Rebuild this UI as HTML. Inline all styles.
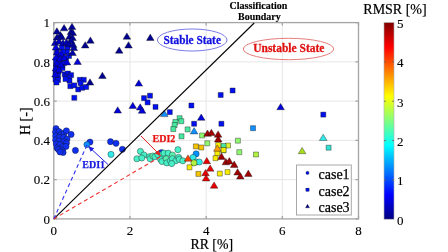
<!DOCTYPE html>
<html><head><meta charset="utf-8"><style>
html,body{margin:0;padding:0;background:#fff;}
body{width:448px;height:252px;overflow:hidden;}
svg{display:block;}
text{font-family:"Liberation Serif","Times New Roman",serif;}
</style></head><body>
<svg width="448" height="252" viewBox="0 0 448 252">
<defs>
<linearGradient id="jet" x1="0" y1="1" x2="0" y2="0">
<stop offset="0" stop-color="#000080"/><stop offset="0.125" stop-color="#0000ff"/>
<stop offset="0.375" stop-color="#00ffff"/><stop offset="0.625" stop-color="#ffff00"/>
<stop offset="0.875" stop-color="#ff0000"/><stop offset="1" stop-color="#800000"/>
</linearGradient>
<marker id="ab" viewBox="0 0 10 10" refX="9" refY="5" markerWidth="6" markerHeight="6" orient="auto-start-reverse" markerUnits="userSpaceOnUse"><path d="M0 1L10 5L0 9Z" fill="#2020e0"/></marker>
<marker id="ar" viewBox="0 0 10 10" refX="9" refY="5" markerWidth="6" markerHeight="6" orient="auto-start-reverse" markerUnits="userSpaceOnUse"><path d="M0 1L10 5L0 9Z" fill="#e82020"/></marker>
</defs>
<rect width="448" height="252" fill="#fff"/>
<g stroke="#e6e6e6" stroke-width="1"><line x1="129.97" y1="22.6" x2="129.97" y2="218.9"/><line x1="206.15" y1="22.6" x2="206.15" y2="218.9"/><line x1="282.32" y1="22.6" x2="282.32" y2="218.9"/><line x1="53.8" y1="179.64" x2="358.5" y2="179.64"/><line x1="53.8" y1="140.38" x2="358.5" y2="140.38"/><line x1="53.8" y1="101.12" x2="358.5" y2="101.12"/><line x1="53.8" y1="61.86" x2="358.5" y2="61.86"/></g>
<!-- axes box -->
<rect x="53.8" y="22.6" width="304.7" height="196.3" fill="none" stroke="#a4a4a4" stroke-width="1.3"/>
<path d="M53.8 218.9V215.9M53.8 22.6V25.6M129.97 218.9V215.9M129.97 22.6V25.6M206.15 218.9V215.9M206.15 22.6V25.6M282.32 218.9V215.9M282.32 22.6V25.6M358.5 218.9V215.9M358.5 22.6V25.6M53.8 218.9H56.8M358.5 218.9H355.5M53.8 179.64H56.8M358.5 179.64H355.5M53.8 140.38H56.8M358.5 140.38H355.5M53.8 101.12H56.8M358.5 101.12H355.5M53.8 61.86H56.8M358.5 61.86H355.5M53.8 22.6H56.8M358.5 22.6H355.5" stroke="#a4a4a4" stroke-width="1.3" fill="none"/>
<g stroke="#111" stroke-width="0.38" stroke-linejoin="round"><circle cx="56" cy="128.5" r="3.1" fill="#1030f0"/><circle cx="55.5" cy="132" r="3.1" fill="#1030f0"/><circle cx="59" cy="131.5" r="3.1" fill="#1030f0"/><circle cx="60.5" cy="134.7" r="3.1" fill="#1030f0"/><circle cx="64" cy="133" r="3.1" fill="#1030f0"/><circle cx="66.4" cy="130.8" r="3.1" fill="#1030f0"/><circle cx="71.1" cy="134.4" r="3.1" fill="#1030f0"/><circle cx="55.6" cy="136" r="3.1" fill="#1030f0"/><circle cx="59" cy="137.5" r="3.1" fill="#1030f0"/><circle cx="63.9" cy="137.4" r="3.1" fill="#1030f0"/><circle cx="67" cy="139" r="3.1" fill="#1030f0"/><circle cx="55.6" cy="140" r="3.1" fill="#1030f0"/><circle cx="59" cy="141" r="3.1" fill="#1030f0"/><circle cx="63.9" cy="141.6" r="3.1" fill="#1030f0"/><circle cx="66.5" cy="143" r="3.1" fill="#1030f0"/><circle cx="56.25" cy="144" r="3.1" fill="#1030f0"/><circle cx="60" cy="144.5" r="3.1" fill="#1030f0"/><circle cx="63.2" cy="146.5" r="3.1" fill="#1030f0"/><circle cx="66" cy="146.5" r="3.1" fill="#1030f0"/><circle cx="57" cy="148" r="3.1" fill="#1030f0"/><circle cx="58.5" cy="149.5" r="3.1" fill="#1030f0"/><circle cx="62.5" cy="150.6" r="3.1" fill="#1030f0"/><circle cx="63.1" cy="152.5" r="3.1" fill="#1030f0"/><circle cx="60" cy="152" r="3.1" fill="#1030f0"/><circle cx="75.4" cy="150.4" r="3.1" fill="#1030f0"/><circle cx="90" cy="142" r="3.1" fill="#1030f0"/><circle cx="110.5" cy="141.7" r="3.1" fill="#1030f0"/><circle cx="116" cy="143.3" r="3.1" fill="#1030f0"/><circle cx="122.4" cy="149.3" r="3.1" fill="#1030f0"/><circle cx="161.5" cy="152.6" r="3.1" fill="#1030f0"/><circle cx="86.9" cy="144.6" r="3.1" fill="#1090ff"/><circle cx="111" cy="154.4" r="3.1" fill="#30e8e8"/><circle cx="140.4" cy="151.4" r="3.1" fill="#48f0c8"/><circle cx="143.9" cy="155" r="3.1" fill="#48f0c8"/><circle cx="136.9" cy="158.75" r="3.1" fill="#48f0c8"/><circle cx="141.8" cy="158" r="3.1" fill="#48f0c8"/><circle cx="149.4" cy="156.7" r="3.1" fill="#48f0c8"/><circle cx="150.1" cy="158.75" r="3.1" fill="#48f0c8"/><circle cx="152.9" cy="156" r="3.1" fill="#5cf0b0"/><circle cx="155" cy="156.7" r="3.1" fill="#48f0c8"/><circle cx="157.8" cy="154.6" r="3.1" fill="#48f0c8"/><circle cx="162" cy="154.6" r="3.1" fill="#48f0c8"/><circle cx="164" cy="153.2" r="3.1" fill="#48f0c8"/><circle cx="168.2" cy="153.2" r="3.1" fill="#48f0c8"/><circle cx="172.4" cy="155" r="3.1" fill="#5cf0b0"/><circle cx="177.9" cy="149.7" r="3.1" fill="#48f0c8"/><circle cx="160.6" cy="159.4" r="3.1" fill="#48f0c8"/><circle cx="162" cy="161.5" r="3.1" fill="#48f0c8"/><circle cx="166.1" cy="158.75" r="3.1" fill="#5cf0b0"/><circle cx="166.8" cy="162.9" r="3.1" fill="#48f0c8"/><circle cx="170.3" cy="160.8" r="3.1" fill="#48f0c8"/><circle cx="172.4" cy="158.75" r="3.1" fill="#48f0c8"/><circle cx="175.8" cy="160.8" r="3.1" fill="#48f0c8"/><circle cx="178.6" cy="157.4" r="3.1" fill="#48f0c8"/><circle cx="179.3" cy="159.4" r="3.1" fill="#48f0c8"/><circle cx="182.8" cy="160.8" r="3.1" fill="#48f0c8"/><circle cx="171.7" cy="163.6" r="3.1" fill="#48f0c8"/><circle cx="196.1" cy="153.9" r="3.1" fill="#0090ff"/><circle cx="193" cy="157.5" r="3.1" fill="#30e8e8"/><circle cx="196.6" cy="162" r="3.1" fill="#30e8e8"/><circle cx="199.3" cy="162" r="3.1" fill="#30e8e8"/><circle cx="193.9" cy="162.9" r="3.1" fill="#b0f040"/><rect x="59.5" y="45" width="5" height="5" fill="#0010f0"/><rect x="65" y="45" width="5" height="5" fill="#0010f0"/><rect x="64.5" y="49.5" width="5" height="5" fill="#0010f0"/><rect x="66.5" y="53.5" width="5" height="5" fill="#0010f0"/><rect x="54.5" y="48.5" width="5" height="5" fill="#0010f0"/><rect x="60.5" y="49.5" width="5" height="5" fill="#0010f0"/><rect x="55.5" y="53.5" width="5" height="5" fill="#0010f0"/><rect x="59.5" y="54.5" width="5" height="5" fill="#0010f0"/><rect x="63.5" y="55.5" width="5" height="5" fill="#0010f0"/><rect x="53.5" y="58.5" width="5" height="5" fill="#0010f0"/><rect x="57.5" y="59.5" width="5" height="5" fill="#0010f0"/><rect x="61.5" y="60.5" width="5" height="5" fill="#0010f0"/><rect x="53.5" y="63.5" width="5" height="5" fill="#0010f0"/><rect x="57.5" y="64.5" width="5" height="5" fill="#0010f0"/><rect x="60" y="65.5" width="5" height="5" fill="#0010f0"/><rect x="53" y="68.5" width="5" height="5" fill="#0010f0"/><rect x="56" y="69" width="5" height="5" fill="#0010f0"/><rect x="53" y="73" width="5" height="5" fill="#0010f0"/><rect x="55.5" y="73.5" width="5" height="5" fill="#0010f0"/><rect x="53" y="77" width="5" height="5" fill="#0010f0"/><rect x="55.5" y="77.5" width="5" height="5" fill="#0010f0"/><rect x="54" y="80" width="5" height="5" fill="#0010f0"/><rect x="62.2" y="71.8" width="5" height="5" fill="#0010f0"/><rect x="65.4" y="71" width="5" height="5" fill="#0010f0"/><rect x="68.6" y="72.6" width="5" height="5" fill="#0010f0"/><rect x="63.8" y="74.2" width="5" height="5" fill="#0010f0"/><rect x="66.2" y="75" width="5" height="5" fill="#0010f0"/><rect x="67" y="78.1" width="5" height="5" fill="#0010f0"/><rect x="63" y="76.5" width="5" height="5" fill="#0010f0"/><rect x="77.3" y="77.3" width="5" height="5" fill="#0010f0"/><rect x="81.3" y="77.3" width="5" height="5" fill="#0010f0"/><rect x="78.1" y="80.5" width="5" height="5" fill="#0010f0"/><rect x="67.8" y="83.7" width="5" height="5" fill="#0010f0"/><rect x="71.8" y="82.9" width="5" height="5" fill="#0010f0"/><rect x="75.7" y="86.9" width="5" height="5" fill="#0010f0"/><rect x="79.7" y="85.3" width="5" height="5" fill="#0010f0"/><rect x="83.7" y="84.5" width="5" height="5" fill="#0010f0"/><rect x="71.8" y="95.3" width="5" height="5" fill="#0010f0"/><rect x="141.5" y="95.6" width="5" height="5" fill="#0010f0"/><rect x="147.5" y="93.2" width="5" height="5" fill="#0010f0"/><rect x="145.1" y="99.9" width="5" height="5" fill="#0010f0"/><rect x="153" y="104.4" width="5" height="5" fill="#0010f0"/><rect x="167.3" y="109.6" width="5" height="5" fill="#0010f0"/><rect x="188.9" y="103" width="5" height="5" fill="#0010f0"/><rect x="191.6" y="121.25" width="5" height="5" fill="#0010f0"/><rect x="218.9" y="121.25" width="5" height="5" fill="#0010f0"/><rect x="218.2" y="92.5" width="5" height="5" fill="#0010f0"/><rect x="230.1" y="88" width="5" height="5" fill="#0010f0"/><rect x="320.8" y="112.1" width="5" height="5" fill="#0010f0"/><rect x="225.5" y="143" width="5" height="5" fill="#e0f030"/><rect x="250.5" y="125.7" width="5" height="5" fill="#1090ff"/><rect x="326.1" y="145.2" width="5" height="5" fill="#30e0d0"/><rect x="253.5" y="152" width="5" height="5" fill="#b0f040"/><rect x="221.1" y="143.5" width="5" height="5" fill="#48e8a0"/><rect x="177.1" y="115.7" width="5" height="5" fill="#48e8a0"/><rect x="172.9" y="119.5" width="5" height="5" fill="#48e8a0"/><rect x="178.8" y="118.7" width="5" height="5" fill="#48e8a0"/><rect x="172.1" y="122.5" width="5" height="5" fill="#48e8a0"/><rect x="170.8" y="126.6" width="5" height="5" fill="#48e8a0"/><rect x="185.1" y="126.9" width="5" height="5" fill="#48e8a0"/><rect x="179" y="133.8" width="5" height="5" fill="#48e8a0"/><rect x="199.6" y="133" width="5" height="5" fill="#90f870"/><rect x="204.8" y="140.8" width="5" height="5" fill="#90f870"/><rect x="235.4" y="138.2" width="5" height="5" fill="#90f870"/><rect x="236.8" y="149.7" width="5" height="5" fill="#90f870"/><rect x="220.9" y="147.9" width="5" height="5" fill="#90f870"/><rect x="215.7" y="142.5" width="5" height="5" fill="#f8ec00"/><rect x="221.1" y="147.5" width="5" height="5" fill="#f8ec00"/><rect x="214.8" y="150.8" width="5" height="5" fill="#f8ec00"/><rect x="213" y="155.7" width="5" height="5" fill="#f8ec00"/><rect x="187" y="164.8" width="5" height="5" fill="#f8ec00"/><rect x="217.3" y="171.1" width="5" height="5" fill="#f8ec00"/><rect x="225" y="169.6" width="5" height="5" fill="#f8ec00"/><rect x="193.4" y="143.9" width="5" height="5" fill="#f4c400"/><rect x="198.75" y="145" width="5" height="5" fill="#f4c400"/><rect x="195.9" y="171.4" width="5" height="5" fill="#f4c400"/><path d="M64.1 24.5L67.9 30.8L60.3 30.8Z" fill="#00009a"/><path d="M72 23.2L75.8 29.5L68.2 29.5Z" fill="#00009a"/><path d="M56.9 27.7L60.7 34L53.1 34Z" fill="#00009a"/><path d="M71 28.2L74.8 34.5L67.2 34.5Z" fill="#00009a"/><path d="M72.8 29.2L76.6 35.5L69 35.5Z" fill="#00009a"/><path d="M60.4 31.5L64.2 37.8L56.6 37.8Z" fill="#00009a"/><path d="M61.7 33.5L65.5 39.8L57.9 39.8Z" fill="#00009a"/><path d="M57 33.7L60.8 40L53.2 40Z" fill="#00009a"/><path d="M69.5 33L73.3 39.3L65.7 39.3Z" fill="#00009a"/><path d="M72.5 34.2L76.3 40.5L68.7 40.5Z" fill="#00009a"/><path d="M55.1 39.3L58.9 45.6L51.3 45.6Z" fill="#0000c0"/><path d="M59 37.7L62.8 44L55.2 44Z" fill="#0000c0"/><path d="M63 39.5L66.8 45.8L59.2 45.8Z" fill="#0000c0"/><path d="M66.5 38.7L70.3 45L62.7 45Z" fill="#0000c0"/><path d="M71.1 37.2L74.9 43.5L67.3 43.5Z" fill="#0000a8"/><path d="M69 40.3L72.8 46.6L65.2 46.6Z" fill="#0000a8"/><path d="M73.2 41.3L77 47.6L69.4 47.6Z" fill="#0000a8"/><path d="M73.8 44.2L77.6 50.5L70 50.5Z" fill="#0000a8"/><path d="M72.5 49.2L76.3 55.5L68.7 55.5Z" fill="#0000a8"/><path d="M56 43.7L59.8 50L52.2 50Z" fill="#0000e0"/><path d="M57 48.7L60.8 55L53.2 55Z" fill="#0000e0"/><path d="M61 50.2L64.8 56.5L57.2 56.5Z" fill="#0000e0"/><path d="M56 53.7L59.8 60L52.2 60Z" fill="#0000e0"/><path d="M60 55.2L63.8 61.5L56.2 61.5Z" fill="#0000e0"/><path d="M64.5 54.2L68.3 60.5L60.7 60.5Z" fill="#0000e0"/><path d="M67 58.7L70.8 65L63.2 65Z" fill="#0000e0"/><path d="M57 59.7L60.8 66L53.2 66Z" fill="#0000e0"/><path d="M61 61.2L64.8 67.5L57.2 67.5Z" fill="#0000e0"/><path d="M56 64.7L59.8 71L52.2 71Z" fill="#0000e0"/><path d="M59 66.2L62.8 72.5L55.2 72.5Z" fill="#0000e0"/><path d="M55.5 70.7L59.3 77L51.7 77Z" fill="#0000e0"/><path d="M77.6 58.2L81.4 64.5L73.8 64.5Z" fill="#0000d0"/><path d="M85.2 41.7L89 48L81.4 48Z" fill="#000090"/><path d="M90.4 36.9L94.2 43.2L86.6 43.2Z" fill="#000090"/><path d="M102.4 72.2L106.2 78.5L98.6 78.5Z" fill="#000090"/><path d="M90 78.8L93.8 85.1L86.2 85.1Z" fill="#000090"/><path d="M126.9 32.9L130.7 39.2L123.1 39.2Z" fill="#000090"/><path d="M128.5 41.7L132.3 48L124.7 48Z" fill="#000090"/><path d="M119.2 46.9L123 53.2L115.4 53.2Z" fill="#000090"/><path d="M150.3 34.1L154.1 40.4L146.5 40.4Z" fill="#000090"/><path d="M138.8 79.8L142.6 86.1L135 86.1Z" fill="#0000d8"/><path d="M117.7 106.8L121.5 113.1L113.9 113.1Z" fill="#0000d8"/><path d="M132.8 102.2L136.6 108.5L129 108.5Z" fill="#0000d8"/><path d="M140.2 103.8L144 110.1L136.4 110.1Z" fill="#0000d8"/><path d="M142.1 107L145.9 113.3L138.3 113.3Z" fill="#0000d8"/><path d="M201.2 114L205 120.3L197.4 120.3Z" fill="#0000d8"/><path d="M280.6 103.4L284.4 109.7L276.8 109.7Z" fill="#0000d8"/><path d="M164.3 110.3L168.1 116.6L160.5 116.6Z" fill="#1090ff"/><path d="M194.1 127.6L197.9 133.9L190.3 133.9Z" fill="#1090ff"/><path d="M323.2 134.2L327 140.5L319.4 140.5Z" fill="#30e8e8"/><path d="M302.1 147.4L305.9 153.7L298.3 153.7Z" fill="#a8e020"/><path d="M217.3 144.9L221.1 151.2L213.5 151.2Z" fill="#ffa000"/><path d="M188 154.9L191.8 161.2L184.2 161.2Z" fill="#ff4000"/><path d="M206.8 157.4L210.6 163.7L203 163.7Z" fill="#e80000"/><path d="M210.2 164.9L214 171.2L206.4 171.2Z" fill="#e80000"/><path d="M205.5 169.4L209.3 175.7L201.7 175.7Z" fill="#e80000"/><path d="M206.1 174.7L209.9 181L202.3 181Z" fill="#e80000"/><path d="M214.1 181.9L217.9 188.2L210.3 188.2Z" fill="#e80000"/><path d="M207.5 130L211.3 136.3L203.7 136.3Z" fill="#a00000"/><path d="M211.4 129.3L215.2 135.6L207.6 135.6Z" fill="#a00000"/><path d="M218.1 130.9L221.9 137.2L214.3 137.2Z" fill="#a00000"/><path d="M218.2 135.6L222 141.9L214.4 141.9Z" fill="#a00000"/><path d="M221.5 153.1L225.3 159.4L217.7 159.4Z" fill="#a00000"/><path d="M225.9 158.5L229.7 164.8L222.1 164.8Z" fill="#a00000"/><path d="M229.3 157.6L233.1 163.9L225.5 163.9Z" fill="#a00000"/><path d="M234.2 161.1L238 167.4L230.4 167.4Z" fill="#a00000"/><path d="M237.6 168.7L241.4 175L233.8 175Z" fill="#a00000"/><path d="M240.3 172.7L244.1 179L236.5 179Z" fill="#a00000"/><path d="M248.3 170.1L252.1 176.4L244.5 176.4Z" fill="#a00000"/></g>
<!-- classification boundary -->
<line x1="53.8" y1="218.9" x2="254.2" y2="23" stroke="#000" stroke-width="1.1"/>
<!-- EDI lines -->
<line x1="53.8" y1="218.9" x2="87" y2="145" stroke="#3030f0" stroke-width="1.1" stroke-dasharray="4,3"/>
<line x1="53.8" y1="218.9" x2="160" y2="157" stroke="#f03030" stroke-width="1.1" stroke-dasharray="4,3"/>
<line x1="108" y1="164.5" x2="88.5" y2="146.5" stroke="#2020e0" stroke-width="1" marker-end="url(#ab)"/>
<line x1="141" y1="136" x2="160.5" y2="155.6" stroke="#e82020" stroke-width="1" marker-end="url(#ar)"/>
<text x="82.3" y="167.6" font-size="10" font-weight="bold" fill="#1818e0" stroke="#1818e0" stroke-width="0.25">EDI1</text>
<text x="152.5" y="141.6" font-size="10" font-weight="bold" fill="#e81010" stroke="#e81010" stroke-width="0.25">EDI2</text>
<ellipse cx="192.2" cy="40" rx="34.8" ry="11" fill="none" stroke="#7c7ce6" stroke-width="1"/>
<text transform="translate(192.2,43.6) scale(1,1.13)" font-size="11.3" font-weight="bold" fill="#1010e0" stroke="#1010e0" stroke-width="0.25" text-anchor="middle">Stable State</text>
<ellipse cx="288.5" cy="49" rx="45.2" ry="10.7" fill="none" stroke="#e67c7c" stroke-width="1"/>
<text transform="translate(288.8,52.4) scale(1,1.13)" font-size="11.5" font-weight="bold" fill="#e01010" stroke="#e01010" stroke-width="0.25" text-anchor="middle">Unstable State</text>
<text x="258.5" y="8.6" font-size="10" font-weight="bold" fill="#000" stroke="#000" stroke-width="0.15" text-anchor="middle">Classification</text>
<text x="259.4" y="20" font-size="10" font-weight="bold" fill="#000" stroke="#000" stroke-width="0.15" text-anchor="middle">Boundary</text>
<!-- legend -->
<rect x="296.5" y="165" width="54.8" height="50" fill="#fff" stroke="#a8a8a8" stroke-width="1"/>
<circle cx="307.5" cy="172.9" r="1.6" fill="#0010f0" stroke="#000" stroke-width="0.3"/>
<rect x="305.9" y="188.1" width="3.2" height="3.2" fill="#0010f0" stroke="#000" stroke-width="0.3"/>
<path d="M307.5 204.3L309.5 207.8L305.5 207.8Z" fill="#000090" stroke="#000" stroke-width="0.3"/>
<g font-size="14" fill="#000" stroke="#000" stroke-width="0.25">
<text x="318.5" y="179">case1</text>
<text x="318.5" y="195.5">case2</text>
<text x="318.5" y="212">case3</text>
</g>
<g font-size="13" fill="#000" stroke="#000" stroke-width="0.12"><text x="53.8" y="234.8" text-anchor="middle">0</text><text x="129.97" y="234.8" text-anchor="middle">2</text><text x="206.15" y="234.8" text-anchor="middle">4</text><text x="282.32" y="234.8" text-anchor="middle">6</text><text x="358.5" y="234.8" text-anchor="middle">8</text><text x="49.9" y="223.7" text-anchor="end">0</text><text x="49.9" y="184.44" text-anchor="end">0.2</text><text x="49.9" y="145.18" text-anchor="end">0.4</text><text x="49.9" y="105.92" text-anchor="end">0.6</text><text x="49.9" y="66.66" text-anchor="end">0.8</text><text x="49.9" y="27.4" text-anchor="end">1</text></g>
<text x="211.8" y="249" font-size="13.8" text-anchor="middle" stroke="#000" stroke-width="0.2">RR [%]</text>
<text transform="translate(29.6,121.2) rotate(-90)" font-size="14" text-anchor="middle" stroke="#000" stroke-width="0.2">H [-]</text>
<!-- colorbar -->
<rect x="384" y="22.6" width="10" height="196.6" fill="url(#jet)" stroke="#b0b0b0" stroke-width="0.6"/>
<path d="M384 179.88h2M394 179.88h-2M384 140.56h2M394 140.56h-2M384 101.24h2M394 101.24h-2M384 61.92h2M394 61.92h-2" stroke="#666" stroke-width="0.8"/>
<g font-size="13" fill="#000" stroke="#000" stroke-width="0.12"><text x="397" y="224.6">0</text><text x="397" y="185.28">1</text><text x="397" y="145.96">2</text><text x="397" y="106.64">3</text><text x="397" y="67.32">4</text><text x="397" y="28">5</text></g>
<text x="395" y="14" font-size="14" text-anchor="middle" stroke="#000" stroke-width="0.2">RMSR [%]</text>
</svg>
</body></html>
